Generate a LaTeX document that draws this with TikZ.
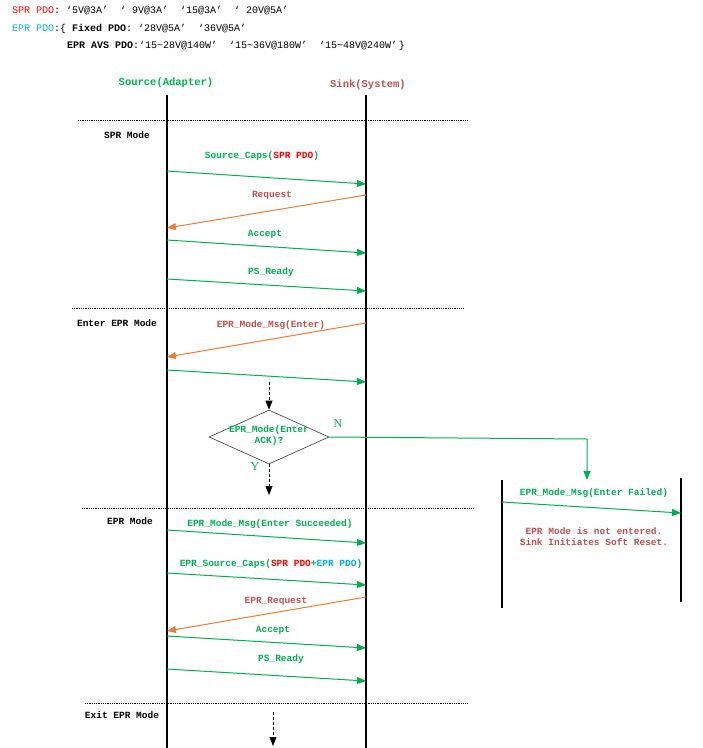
\documentclass[tikz,border=0pt]{standalone}
\usepackage{fontspec}
\setmainfont{Liberation Serif}
\setmonofont{Liberation Mono}
\usetikzlibrary{shapes.geometric,arrows.meta}
\definecolor{gr}{RGB}{0,176,80}
\definecolor{og}{RGB}{237,125,49}
\definecolor{rb}{RGB}{192,80,77}
\definecolor{rd}{RGB}{255,0,0}
\definecolor{bl}{RGB}{0,176,240}
\tikzset{
 life/.style={line width=1.3pt,black},
 sep/.style={densely dotted,line width=0.8pt},
 gmsg/.style={gr,line width=1pt,-{Triangle[length=9pt,width=7pt]}},
 omsg/.style={og,line width=1pt,-{Triangle[length=9pt,width=7pt]}},
 dflow/.style={densely dashed,line width=0.7pt,-{Triangle[length=9pt,width=7pt]}},
 lab/.style={font=\ttfamily\bfseries\fontsize{9.5}{11}\selectfont,inner sep=1pt},
 top/.style={font=\ttfamily\fontsize{10}{11}\selectfont,anchor=west,inner sep=0pt}
}
\begin{document}
\begin{tikzpicture}[x=1pt,y=-1pt]
\useasboundingbox (0,0) rectangle (703,748);
\node[top] (t1) at (12,11) {\textcolor{rd}{SPR PDO}: ‘5V@3A’\ \ ‘ 9V@3A’\ \ ‘15@3A’\ \ ‘ 20V@5A’};
\node[top] (t2) at (12,29) {\textcolor{bl}{EPR PDO}:\{ \textbf{Fixed PDO}:\ ‘28V@5A’\ \ ‘36V@5A’};
\node[top] (t3) at (67,46) {\textbf{EPR AVS PDO}:‘15\textasciitilde28V@140W’\ \ ‘15\textasciitilde36V@180W’\ \ ‘15\textasciitilde48V@240W’\,\}};
\node[lab,gr,font=\ttfamily\bfseries\fontsize{10.5}{11}\selectfont] (src) at (166,83) {Source(Adapter)};
\node[lab,rb,font=\ttfamily\bfseries\fontsize{10.5}{11}\selectfont] (snk) at (368,85) {Sink(System)};
\coordinate (s0) at (167,95); \coordinate (s1) at (167,748);
\coordinate (k0) at (366,95); \coordinate (k1) at (366,748);
\draw[life] (s0)--(s1); \draw[life] (k0)--(k1);
\coordinate (r0) at (502,480); \coordinate (r1) at (502,608);
\coordinate (q0) at (681,478); \coordinate (q1) at (681,602);
\draw[life] (r0)--(r1); \draw[life] (q0)--(q1);
\draw[sep] (78,120)--(468,120);
\draw[sep] (72,308)--(463,308);
\draw[sep] (82,508)--(473,508);
\draw[sep] (85,703)--(468,703);
\node[lab] (m1) at (127,135) {SPR Mode};
\node[lab] (m2) at (117,323) {Enter EPR Mode};
\node[lab] (m3) at (130,521) {EPR Mode};
\node[lab] (m4) at (122,715) {Exit EPR Mode};
% SPR
\coordinate (a1) at (167,171); \coordinate (b1) at (366,184);
\draw[gmsg] (a1)--(b1);
\node[lab,gr] (l1) at (262,156) {Source\_Caps(\textcolor{rd}{SPR PDO})};
\coordinate (a2) at (366,195); \coordinate (b2) at (167,228);
\draw[omsg] (a2)--(b2);
\node[lab,rb] (l2) at (272,195) {Request};
\coordinate (a3) at (167,240); \coordinate (b3) at (366,253);
\draw[gmsg] (a3)--(b3);
\node[lab,gr] (l3) at (265,234) {Accept};
\coordinate (a4) at (167,279); \coordinate (b4) at (366,291);
\draw[gmsg] (a4)--(b4);
\node[lab,gr] (l4) at (271,272) {PS\_Ready};
% enter
\coordinate (a5) at (366,323); \coordinate (b5) at (167,357);
\draw[omsg] (a5)--(b5);
\node[lab,rb] (l5) at (271,325) {EPR\_Mode\_Msg(Enter)};
\coordinate (a6) at (167,370); \coordinate (b6) at (366,382);
\draw[gmsg] (a6)--(b6);
\node[draw=black!70,diamond,aspect=2.2,minimum width=120,minimum height=54,inner sep=0pt,line width=0.7pt] (d) at (269,437) {};
\node[lab,gr,align=center] (dl) at (269,436) {EPR\_Mode(Enter\\ACK)?};
\coordinate (c1) at (269,382);
\draw[dflow] (c1)--(d.north);
\coordinate (c2) at (269,495);
\draw[dflow] (d.south)--(c2);
\node[gr,font=\fontsize{12}{12}\selectfont] (y) at (255,467) {Y};
\node[gr,font=\fontsize{12}{12}\selectfont] (n) at (338,424) {N};
\coordinate (f) at (587,480);
\draw[gmsg] (d.east)--(587,439)--(f);
\coordinate (a7) at (502,502); \coordinate (b7) at (681,513);
\draw[gmsg] (a7)--(b7);
\node[lab,gr] (l7) at (594,493) {EPR\_Mode\_Msg(Enter Failed)};
\node[lab,rb,align=center] (l7b) at (594,537) {EPR Mode is not entered.\\Sink Initiates Soft Reset.};
% EPR
\coordinate (a8) at (167,530); \coordinate (b8) at (366,543);
\draw[gmsg] (a8)--(b8);
\node[lab,gr] (l8) at (270,524) {EPR\_Mode\_Msg(Enter Succeeded)};
\coordinate (a9) at (167,573); \coordinate (b9) at (366,585);
\draw[gmsg] (a9)--(b9);
\node[lab,gr] (l9) at (271,564) {EPR\_Source\_Caps(\textcolor{rd}{SPR PDO}+\textcolor{bl}{EPR PDO})};
\coordinate (a10) at (366,597); \coordinate (b10) at (167,631);
\draw[omsg] (a10)--(b10);
\node[lab,rb] (l10) at (276,601) {EPR\_Request};
\coordinate (a11) at (167,636); \coordinate (b11) at (366,648);
\draw[gmsg] (a11)--(b11);
\node[lab,gr] (l11) at (273,630) {Accept};
\coordinate (a12) at (167,669); \coordinate (b12) at (366,681);
\draw[gmsg] (a12)--(b12);
\node[lab,gr] (l12) at (281,659) {PS\_Ready};
\coordinate (e1) at (273,712); \coordinate (e2) at (273,746);
\draw[dflow] (e1)--(e2);
\end{tikzpicture}
\end{document}
